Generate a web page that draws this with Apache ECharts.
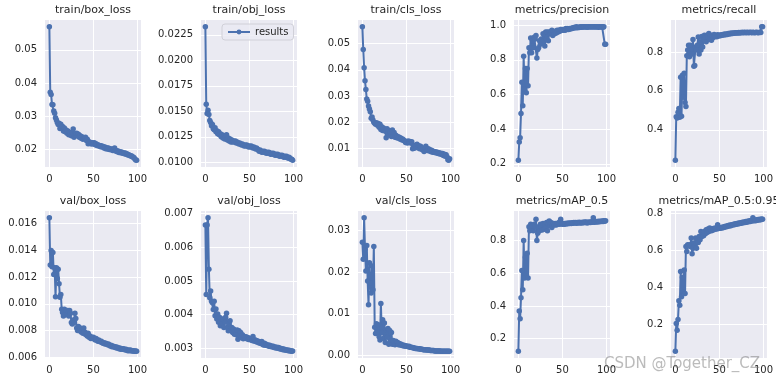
<!DOCTYPE html>
<html>
<head>
<meta charset="utf-8">
<script src="https://cdn.jsdelivr.net/npm/echarts@6/dist/echarts.min.js"></script>
<style>html,body{margin:0;padding:0;background:#fff}#c{width:776px;height:382px}</style>
</head>
<body>
<div id="c"></div>
<script>
const titles = ['train/box_loss','train/obj_loss','train/cls_loss','metrics/precision','metrics/recall',
  'val/box_loss','val/obj_loss','val/cls_loss','metrics/mAP_0.5','metrics/mAP_0.5:0.95'];
const epochs = [];
for (let i = 0; i < 100; i++) epochs.push(i);
const xTicks = [0, 50, 100];

const trainBoxLoss = [0.0570,0.0372,0.0365,0.0335,0.0334,0.0315,0.0308,0.0295,0.0288,0.0280,
0.0274,0.0278,0.0262,0.0275,0.0265,0.0268,0.0255,0.0264,0.0252,0.0258,
0.0248,0.0255,0.0243,0.0250,0.0246,0.0240,0.0250,0.0261,0.0236,0.0244,
0.0242,0.0248,0.0240,0.0245,0.0236,0.0240,0.0233,0.0237,0.0230,0.0234,
0.0232,0.0236,0.0226,0.0230,0.0216,0.0222,0.0217,0.0220,0.0215,0.0219,
0.0216,0.0219,0.0213,0.0216,0.0211,0.0213,0.0209,0.0211,0.0207,0.0210,
0.0206,0.0208,0.0203,0.0206,0.0201,0.0204,0.0200,0.0203,0.0199,0.0201,
0.0198,0.0200,0.0196,0.0198,0.0203,0.0194,0.0196,0.0192,0.0194,0.0190,
0.0192,0.0189,0.0191,0.0187,0.0189,0.0186,0.0188,0.0184,0.0186,0.0182,
0.0183,0.0181,0.0179,0.0180,0.0177,0.0176,0.0174,0.0170,0.0167,0.0166];

const trainObjLoss = [0.0233,0.0157,0.0148,0.0151,0.0147,0.0141,0.0139,0.0136,0.0137,0.0133,
0.0132,0.0134,0.0130,0.0131,0.0128,0.0130,0.0127,0.0128,0.0125,0.0127,
0.0124,0.0126,0.0123,0.0125,0.0127,0.0122,0.0124,0.0121,0.0123,0.0120,
0.0122,0.0120,0.0121,0.0120,0.0121,0.0119,0.0120,0.0119,0.0118,0.0119,
0.0118,0.0117,0.0118,0.0117,0.0116,0.0117,0.0116,0.0117,0.0116,0.0115,
0.0116,0.0115,0.0116,0.0115,0.0114,0.0115,0.0114,0.0113,0.0114,0.0113,
0.0112,0.0111,0.0112,0.0111,0.0110,0.0111,0.0110,0.0111,0.0110,0.0109,
0.0110,0.0109,0.0110,0.0109,0.0108,0.0109,0.0108,0.0109,0.0108,0.0107,
0.0108,0.0107,0.0108,0.0107,0.0106,0.0107,0.0106,0.0107,0.0106,0.0105,
0.0106,0.0105,0.0106,0.0105,0.0104,0.0105,0.0104,0.0103,0.0103,0.0102];

const trainClsLoss = [0.0565,0.0478,0.0408,0.0358,0.0325,0.0288,0.0280,0.0262,0.0250,0.0240,
0.0215,0.0220,0.0208,0.0200,0.0196,0.0192,0.0198,0.0188,0.0195,0.0180,
0.0192,0.0172,0.0182,0.0168,0.0178,0.0172,0.0165,0.0140,0.0175,0.0155,
0.0168,0.0150,0.0162,0.0145,0.0170,0.0148,0.0160,0.0142,0.0150,0.0140,
0.0145,0.0138,0.0142,0.0135,0.0138,0.0132,0.0135,0.0130,0.0128,0.0122,
0.0126,0.0120,0.0128,0.0122,0.0126,0.0120,0.0125,0.0098,0.0110,0.0100,
0.0112,0.0105,0.0115,0.0102,0.0110,0.0098,0.0108,0.0100,0.0094,0.0100,
0.0088,0.0098,0.0108,0.0095,0.0092,0.0098,0.0090,0.0094,0.0087,0.0092,
0.0085,0.0088,0.0084,0.0087,0.0082,0.0085,0.0080,0.0083,0.0078,0.0081,
0.0076,0.0080,0.0072,0.0077,0.0070,0.0075,0.0068,0.0056,0.0054,0.0060];

const precision = [0.22,0.325,0.35,0.49,0.67,0.535,0.82,0.63,0.75,0.61,
0.75,0.65,0.87,0.84,0.925,0.84,0.91,0.87,0.93,0.92,
0.94,0.81,0.86,0.87,0.91,0.89,0.92,0.90,0.95,0.91,
0.88,0.96,0.92,0.96,0.91,0.96,0.95,0.96,0.97,0.94,
0.96,0.95,0.965,0.955,0.97,0.96,0.97,0.965,0.975,0.97,
0.975,0.97,0.975,0.97,0.98,0.975,0.98,0.975,0.98,0.977,
0.982,0.98,0.985,0.983,0.988,0.985,0.99,0.985,0.988,0.986,
0.989,0.99,0.988,0.99,0.989,0.991,0.989,0.99,0.988,0.99,
0.989,0.991,0.99,0.989,0.99,0.991,0.989,0.99,0.991,0.989,
0.99,0.988,0.99,0.991,0.989,0.99,0.988,0.99,0.89,0.89];

const recall = [0.243,0.467,0.46,0.49,0.51,0.465,0.67,0.47,0.68,0.567,
0.69,0.54,0.52,0.78,0.81,0.835,0.775,0.835,0.81,0.79,
0.864,0.727,0.73,0.826,0.81,0.835,0.877,0.79,0.852,0.81,
0.88,0.826,0.864,0.886,0.874,0.852,0.886,0.877,0.895,0.864,
0.886,0.86,0.885,0.875,0.89,0.88,0.885,0.878,0.888,0.882,
0.886,0.884,0.888,0.886,0.89,0.887,0.892,0.889,0.893,0.89,
0.895,0.893,0.896,0.894,0.897,0.895,0.898,0.896,0.899,0.897,
0.899,0.898,0.9,0.898,0.9,0.899,0.901,0.899,0.9,0.901,
0.899,0.9,0.901,0.899,0.9,0.901,0.9,0.899,0.901,0.9,
0.899,0.9,0.901,0.9,0.899,0.9,0.901,0.9,0.93,0.93];

const valBoxLoss = [0.01645,0.0129,0.0140,0.01277,0.01384,0.0122,0.0127,0.01053,0.0127,0.0119,
0.0126,0.0115,0.0105,0.0107,0.0096,0.00935,0.0091,0.0096,0.0092,0.0095,
0.0092,0.0095,0.0091,0.0095,0.0093,0.0086,0.0085,0.0088,0.0086,0.0093,
0.0089,0.0082,0.0080,0.0083,0.0080,0.0082,0.0079,0.0081,0.0078,0.0082,
0.0079,0.0077,0.0078,0.0076,0.0078,0.0075,0.0076,0.0074,0.0075,0.0074,
0.0075,0.0074,0.0073,0.0074,0.0073,0.0072,0.0073,0.0072,0.00715,0.0072,
0.0071,0.00705,0.0071,0.0070,0.00705,0.0070,0.00695,0.0070,0.0069,0.00685,
0.0069,0.0068,0.00685,0.0068,0.00675,0.0068,0.0067,0.00675,0.0067,0.00665,
0.0067,0.0066,0.00665,0.0066,0.00665,0.0066,0.00655,0.0066,0.00655,0.0065,
0.00655,0.0065,0.00655,0.0065,0.00648,0.0065,0.00648,0.00645,0.00648,0.00645];

const valObjLoss = [0.00666,0.0046,0.00666,0.00688,0.00535,0.0045,0.0047,0.0044,0.00435,0.00415,
0.0044,0.00397,0.00417,0.00387,0.00402,0.00377,0.00392,0.00367,0.00387,0.00372,
0.00387,0.00362,0.00377,0.00392,0.00404,0.00362,0.00352,0.00372,0.00382,0.00352,
0.00362,0.00347,0.00357,0.00342,0.00352,0.0034,0.00354,0.00327,0.00352,0.00337,
0.00347,0.00332,0.0034,0.00328,0.00335,0.0033,0.00334,0.00328,0.00332,0.00326,
0.0033,0.00325,0.00328,0.00323,0.00335,0.00322,0.00325,0.0032,0.00323,0.00318,
0.00321,0.00316,0.00319,0.00314,0.0032,0.00312,0.0031,0.00315,0.00309,0.00312,
0.00308,0.0031,0.00306,0.00309,0.00305,0.00307,0.00304,0.00306,0.00302,0.00304,
0.00301,0.00303,0.003,0.00302,0.00299,0.003,0.00297,0.00299,0.00296,0.00298,
0.00295,0.00296,0.00294,0.00295,0.00293,0.00294,0.00292,0.00293,0.00291,0.00292];

const valClsLoss = [0.0272,0.0231,0.0331,0.0255,0.0203,0.0264,0.0179,0.0122,0.0223,0.0175,
0.0150,0.0215,0.0158,0.0262,0.0068,0.0053,0.0076,0.0057,0.0074,0.0045,
0.0037,0.0125,0.0055,0.0086,0.0041,0.0078,0.0031,0.0061,0.0044,0.0065,
0.0027,0.0060,0.0033,0.0055,0.0027,0.0036,0.0030,0.0026,0.0034,0.0028,
0.0031,0.0026,0.0029,0.0025,0.0027,0.0024,0.0025,0.0023,0.0024,0.0022,
0.0023,0.0022,0.0021,0.0022,0.0020,0.0020,0.0019,0.0019,0.0018,0.0018,
0.0017,0.0017,0.0017,0.0016,0.0016,0.0016,0.0015,0.0015,0.0015,0.0014,
0.0014,0.0014,0.0014,0.0013,0.0013,0.0013,0.0013,0.0012,0.0012,0.0012,
0.0012,0.0012,0.0011,0.0011,0.0011,0.0011,0.0011,0.0011,0.0011,0.0010,
0.0010,0.0010,0.0010,0.0010,0.0010,0.0010,0.0010,0.0010,0.0010,0.0010];

const mAP50 = [0.123,0.369,0.322,0.45,0.617,0.5,0.8,0.572,0.698,0.596,
0.722,0.572,0.885,0.86,0.90,0.877,0.89,0.86,0.90,0.885,
0.93,0.80,0.845,0.885,0.86,0.90,0.885,0.865,0.905,0.87,
0.90,0.88,0.91,0.86,0.90,0.92,0.89,0.91,0.88,0.90,
0.905,0.895,0.905,0.895,0.905,0.9,0.91,0.9,0.93,0.905,
0.9,0.905,0.9,0.905,0.902,0.906,0.903,0.907,0.904,0.908,
0.905,0.909,0.906,0.91,0.907,0.911,0.906,0.91,0.908,0.912,
0.907,0.911,0.908,0.912,0.909,0.913,0.91,0.914,0.908,0.912,
0.91,0.914,0.911,0.915,0.912,0.94,0.912,0.916,0.913,0.917,
0.914,0.918,0.915,0.918,0.916,0.92,0.917,0.921,0.918,0.921];

const mAP5095 = [0.054,0.204,0.167,0.225,0.327,0.303,0.484,0.348,0.453,0.375,
0.493,0.366,0.62,0.592,0.629,0.623,0.629,0.62,0.665,0.58,
0.61,0.638,0.623,0.665,0.61,0.656,0.641,0.674,0.656,0.70,
0.674,0.692,0.677,0.70,0.688,0.71,0.695,0.714,0.70,0.72,
0.71,0.705,0.715,0.708,0.718,0.712,0.72,0.714,0.737,0.716,
0.72,0.718,0.722,0.72,0.725,0.722,0.727,0.725,0.73,0.727,
0.733,0.73,0.735,0.732,0.737,0.735,0.74,0.737,0.742,0.739,
0.744,0.741,0.746,0.743,0.748,0.745,0.75,0.747,0.752,0.749,
0.754,0.751,0.756,0.753,0.758,0.755,0.76,0.757,0.775,0.758,
0.762,0.759,0.764,0.761,0.765,0.762,0.767,0.764,0.768,0.766];

const ticksTrainBox = [0.02, 0.03, 0.04, 0.05];
const ticksTrainObj = [0.0100, 0.0125, 0.0150, 0.0175, 0.0200, 0.0225];
const ticksTrainCls = [0.01, 0.02, 0.03, 0.04, 0.05];
const ticksPrecision = [0.2, 0.4, 0.6, 0.8, 1.0];
const ticksRecall = [0.4, 0.6, 0.8];
const ticksValBox = [0.006, 0.008, 0.010, 0.012, 0.014, 0.016];
const ticksValObj = [0.003, 0.004, 0.005, 0.006, 0.007];
const ticksValCls = [0.00, 0.01, 0.02, 0.03];
const ticksMAP50 = [0.2, 0.4, 0.6, 0.8];
const ticksMAP5095 = [0.2, 0.4, 0.6, 0.8];
const tickDecimals = [2, 4, 2, 1, 1, 3, 3, 2, 1, 1];

const seriesValues = [trainBoxLoss, trainObjLoss, trainClsLoss, precision, recall,
  valBoxLoss, valObjLoss, valClsLoss, mAP50, mAP5095];
const seriesTicks = [ticksTrainBox, ticksTrainObj, ticksTrainCls, ticksPrecision, ticksRecall,
  ticksValBox, ticksValObj, ticksValCls, ticksMAP50, ticksMAP5095];

const colLeft = [45, 201, 358, 514, 671];
const rowTop = [20, 211];
const W = 96, H = 147;
const txt = '#262626';
const fam = 'DejaVu Sans';

const grid = [], xAxis = [], yAxis = [], series = [], graphic = [];
for (let k = 0; k < 10; k++) {
  const r = Math.floor(k / 5), c = k % 5;
  grid.push({left: colLeft[c], top: rowTop[r], width: W, height: H, show: true,
    backgroundColor: '#EAEAF2', borderWidth: 0, containLabel: false});
  xAxis.push({type: 'value', gridIndex: k, min: -4.95, max: 103.95,
    axisLine: {show: false},
    axisTick: {show: false, customValues: xTicks},
    axisLabel: {customValues: xTicks, color: txt, fontSize: 10, fontFamily: fam, margin: 7},
    splitLine: {show: true, lineStyle: {color: '#ffffff', width: 1}}});
  const dec = tickDecimals[k];
  yAxis.push({type: 'value', gridIndex: k,
    min: v => v.min - 0.05 * (v.max - v.min),
    max: v => v.max + 0.05 * (v.max - v.min),
    axisLine: {show: false},
    axisTick: {show: false, customValues: seriesTicks[k]},
    axisLabel: {customValues: seriesTicks[k], color: txt, fontSize: 10, fontFamily: fam, margin: 8,
      formatter: v => v.toFixed(dec)},
    splitLine: {show: true, lineStyle: {color: '#ffffff', width: 1}}});
  const vals = seriesValues[k];
  series.push({type: 'line', name: 'results', xAxisIndex: k, yAxisIndex: k,
    data: epochs.map((e, i) => [e, vals[i]]),
    symbol: 'circle', symbolSize: 5.5, showSymbol: true,
    lineStyle: {color: '#4C72B0', width: 2},
    itemStyle: {color: '#4C72B0'}, animation: false});
  graphic.push({type: 'text', x: colLeft[c] + W / 2, y: r === 0 ? 10 : 201,
    style: {text: titles[k], fill: txt, font: '11px "DejaVu Sans"', textAlign: 'center', textVerticalAlign: 'middle'}});
}
graphic.push({type: 'text', x: 604, y: 364, z: 100,
  style: {text: 'CSDN @Together_CZ', fill: 'rgba(120,120,120,0.5)', font: '15px "DejaVu Sans"',
    textAlign: 'left', textVerticalAlign: 'middle'}});

const chart = echarts.init(document.getElementById('c'), null, {renderer: 'canvas'});
chart.setOption({
  animation: false,
  backgroundColor: '#ffffff',
  grid, xAxis, yAxis, series, graphic,
  legend: {data: ['results'], left: 222, top: 24, orient: 'vertical',
    padding: [3, 5, 3, 5], itemWidth: 22, itemHeight: 6,
    backgroundColor: 'rgba(234,234,242,0.8)', borderColor: '#d0d0d8', borderWidth: 1, borderRadius: 3,
    textStyle: {color: txt, fontSize: 10, fontFamily: fam}}
});
</script>
</body>
</html>
